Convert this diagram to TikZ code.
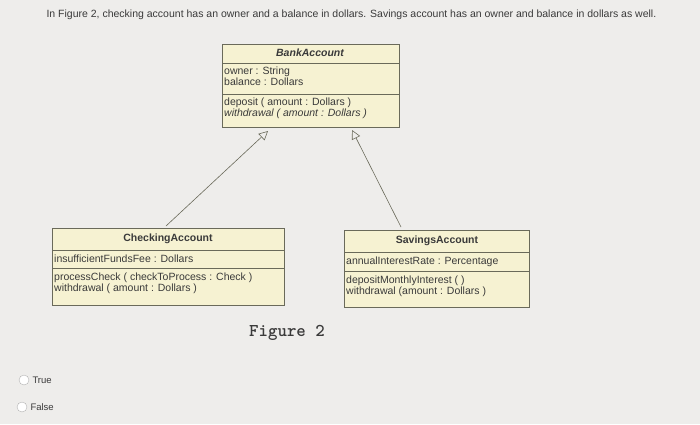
\documentclass[tikz,border=0pt]{standalone}
\usepackage{fontspec}
\setmainfont{Liberation Sans}
\usetikzlibrary{arrows.meta}
\definecolor{bg}{HTML}{EEEDEB}
\definecolor{boxf}{HTML}{F6F2D2}
\definecolor{edge}{HTML}{6A6A5A}
\definecolor{txt}{HTML}{3A3A3A}
\begin{document}
\begin{tikzpicture}[x=1pt,y=-1pt,
  cell/.style={draw=edge,fill=boxf,line width=0.8pt},
  lbl/.style={font=\fontsize{10.5}{10.5}\selectfont,text=txt,align=left,inner sep=1pt},
  ttl/.style={font=\fontsize{10.5}{10.5}\selectfont\bfseries,text=txt,inner sep=1pt},
  gen/.style={draw=edge,line width=0.6pt,-{Triangle[open,length=9pt,width=9pt]}}]
\useasboundingbox[fill=bg] (0,0) rectangle (700,424);
\node[font=\fontsize{10.5}{12}\selectfont,text=txt,anchor=west] (q) at (43,15) {In Figure 2, checking account has an owner and a balance in dollars. Savings account has an owner and balance in dollars as well.};
% BankAccount
\draw[cell] (222,44) rectangle (399,63);
\draw[cell] (222,63) rectangle (399,94);
\draw[cell] (222,94) rectangle (399,127);
\node[ttl,font=\fontsize{10.5}{10.5}\selectfont\itshape\bfseries] (bt) at (310,53) {BankAccount};
\node[lbl,anchor=north west] (ba) at (223,66) {owner : String\\balance : Dollars};
\node[lbl,anchor=north west] (bo) at (223,97) {deposit ( amount : Dollars )\\\textit{withdrawal ( amount : Dollars )}};
\coordinate (b1) at (268,131);
\coordinate (b2) at (352,130);
% Checking
\draw[cell] (52,228) rectangle (284,250);
\draw[cell] (52,250) rectangle (284,268);
\draw[cell] (52,268) rectangle (284,305);
\node[ttl] (ct) at (168,239) {CheckingAccount};
\node[lbl,anchor=west] (ca) at (53,259) {insufficientFundsFee : Dollars};
\node[lbl,anchor=north west] (co) at (53,272) {processCheck ( checkToProcess : Check )\\withdrawal ( amount : Dollars )};
\coordinate (c1) at (166,226);
% Savings
\draw[cell] (344,230) rectangle (529,252);
\draw[cell] (344,252) rectangle (529,271);
\draw[cell] (344,271) rectangle (529,307);
\node[ttl] (st) at (437,241) {SavingsAccount};
\node[lbl,anchor=west] (sa) at (345,262) {annualInterestRate : Percentage};
\node[lbl,anchor=north west] (so) at (345,275) {depositMonthlyInterest ( )\\withdrawal (amount : Dollars )};
\coordinate (s1) at (401,227);
\draw[gen] (c1) -- (b1);
\draw[gen] (s1) -- (b2);
\node[font=\ttfamily\bfseries\fontsize{18}{20}\selectfont,text=txt] (fig) at (287,333) {Figure 2};
\draw[draw=gray!60,fill=white] (24,380) circle (5);
\node[font=\fontsize{9.5}{11}\selectfont,text=txt,anchor=west] (t) at (29,380) {True};
\draw[draw=gray!60,fill=white] (22,407) circle (5);
\node[font=\fontsize{9.5}{11}\selectfont,text=txt,anchor=west] (f) at (27,407) {False};
\end{tikzpicture}
\end{document}
